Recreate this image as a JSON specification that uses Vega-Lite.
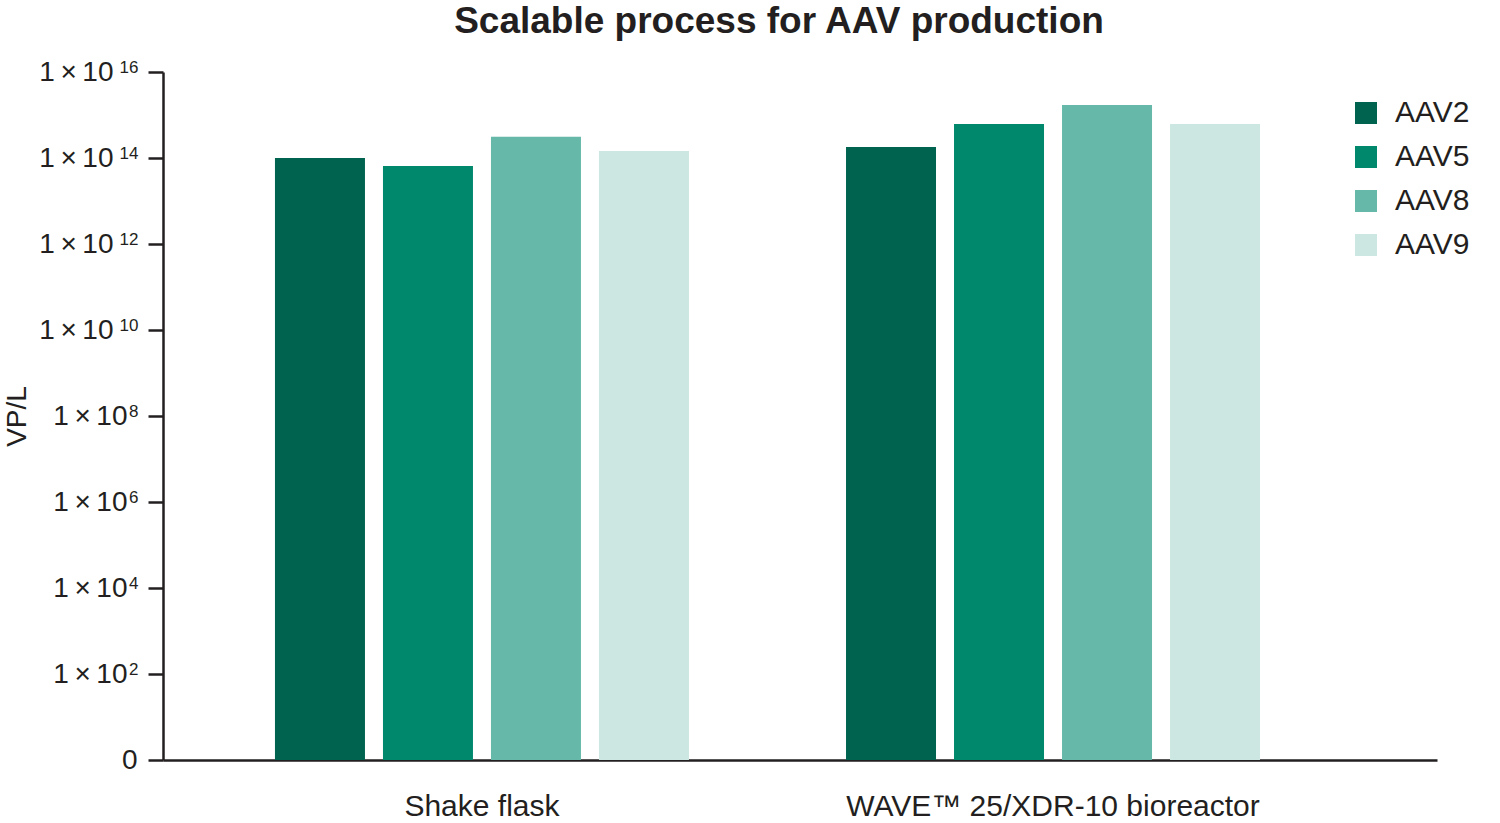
{
  "$schema": "https://vega.github.io/schema/vega-lite/v6.json",
  "autosize": "none",
  "width": 1274,
  "height": 688,
  "padding": {"left": 163, "top": 72, "right": 63, "bottom": 63},
  "background": "white",
  "config": {
    "view": {"stroke": null},
    "font": "Liberation Sans",
    "axis": {
      "domainColor": "#231f20",
      "domainWidth": 2.5,
      "tickColor": "#231f20",
      "tickWidth": 2.5,
      "labelColor": "#231f20",
      "titleColor": "#231f20",
      "labelFont": "Liberation Sans",
      "titleFont": "Liberation Sans",
      "labelFontSize": 28,
      "titleFontSize": 28,
      "titleFontWeight": "normal",
      "grid": false
    },
    "legend": {
      "labelFont": "Liberation Sans",
      "labelFontSize": 30,
      "labelColor": "#231f20"
    }
  },
  "title": {
    "text": "Scalable process for AAV production",
    "font": "Liberation Sans",
    "fontSize": 37,
    "fontWeight": "bold",
    "color": "#231f20",
    "anchor": "middle",
    "dx": -21,
    "offset": 17
  },
  "data": {
    "values": [
      {"condition": "Shake flask", "serotype": "AAV2", "vp": 1.0e14},
      {"condition": "Shake flask", "serotype": "AAV5", "vp": 6.5e13},
      {"condition": "Shake flask", "serotype": "AAV8", "vp": 3.1e14},
      {"condition": "Shake flask", "serotype": "AAV9", "vp": 1.45e14},
      {"condition": "WAVE™ 25/XDR-10 bioreactor", "serotype": "AAV2", "vp": 1.8e14},
      {"condition": "WAVE™ 25/XDR-10 bioreactor", "serotype": "AAV5", "vp": 6.2e14},
      {"condition": "WAVE™ 25/XDR-10 bioreactor", "serotype": "AAV8", "vp": 1.7e15},
      {"condition": "WAVE™ 25/XDR-10 bioreactor", "serotype": "AAV9", "vp": 6.2e14}
    ]
  },
  "resolve": {"axis": {"y": "independent"}},
  "layer": [
    {
      "mark": {"type": "bar"},
      "encoding": {
        "x": {
          "field": "condition",
          "type": "nominal",
          "sort": null,
          "scale": {"paddingInner": 0.275, "paddingOuter": 0.253, "align": 0.3875},
          "axis": {
            "title": null,
            "labelAngle": 0,
            "ticks": false,
            "labelPadding": 31,
            "labelFontSize": 30,
            "labelLimit": 0
          }
        },
        "xOffset": {
          "field": "serotype",
          "type": "nominal",
          "scale": {"paddingInner": 0.1667, "paddingOuter": 0}
        },
        "y": {
          "field": "vp",
          "type": "quantitative",
          "scale": {"type": "log", "domain": [1, 1e16]},
          "axis": {
            "orient": "left",
            "title": "VP/L",
            "titleX": -138,
            "titleBaseline": "alphabetic",
            "values": [1, 1e2, 1e4, 1e6, 1e8, 1e10, 1e12, 1e14, 1e16],
            "tickSize": 15,
            "labelPadding": 11,
            "labelExpr": "datum.value <= 1 ? '0' : ''"
          }
        },
        "y2": {"datum": 1},
        "color": {
          "field": "serotype",
          "type": "nominal",
          "scale": {
            "domain": ["AAV2", "AAV5", "AAV8", "AAV9"],
            "range": ["#00634f", "#00886d", "#66b9a9", "#cce7e1"]
          },
          "legend": {
            "title": null,
            "orient": "none",
            "legendX": 1188,
            "legendY": 26,
            "symbolType": "square",
            "symbolSize": 484,
            "symbolStrokeWidth": 0,
            "rowPadding": 14,
            "labelOffset": 14
          }
        }
      }
    },
    {
      "mark": {"type": "point", "opacity": 0},
      "encoding": {
        "y": {
          "field": "vp",
          "type": "quantitative",
          "scale": {"type": "log", "domain": [1, 1e16]},
          "axis": {
            "orient": "left",
            "title": null,
            "domain": false,
            "ticks": false,
            "tickSize": 0,
            "values": [1e10, 1e12, 1e14, 1e16],
            "labelPadding": 50,
            "labelDy": -1,
            "labelExpr": "'1\u2009×\u200910'"
          }
        }
      }
    },
    {
      "mark": {"type": "point", "opacity": 0},
      "encoding": {
        "y": {
          "field": "vp",
          "type": "quantitative",
          "scale": {"type": "log", "domain": [1, 1e16]},
          "axis": {
            "orient": "left",
            "title": null,
            "domain": false,
            "ticks": false,
            "tickSize": 0,
            "values": [1e2, 1e4, 1e6, 1e8],
            "labelPadding": 36,
            "labelDy": -1,
            "labelExpr": "'1\u2009×\u200910'"
          }
        }
      }
    },
    {
      "mark": {"type": "point", "opacity": 0},
      "encoding": {
        "y": {
          "field": "vp",
          "type": "quantitative",
          "scale": {"type": "log", "domain": [1, 1e16]},
          "axis": {
            "orient": "left",
            "title": null,
            "domain": false,
            "ticks": false,
            "tickSize": 0,
            "values": [1e2, 1e4, 1e6, 1e8, 1e10, 1e12, 1e14, 1e16],
            "labelPadding": 25,
            "labelFontSize": 17,
            "labelBaseline": "alphabetic",
            "labelDy": -1,
            "labelExpr": "format(round(log(datum.value) / LN10), 'd')"
          }
        }
      }
    }
  ]
}
